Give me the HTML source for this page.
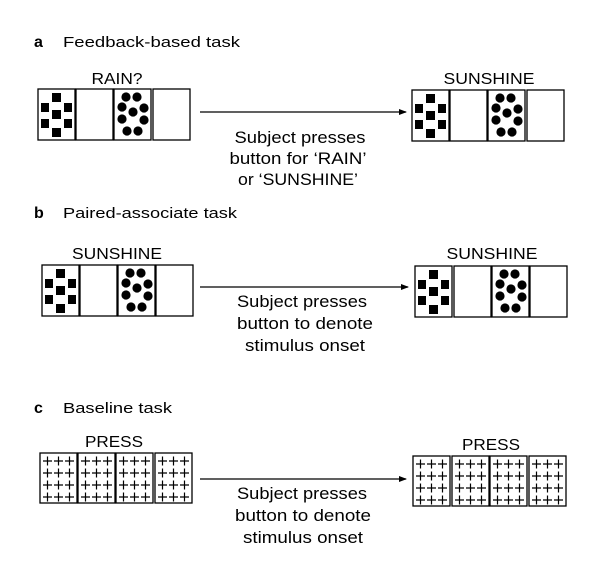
<!DOCTYPE html>
<html><head><meta charset="utf-8"><style>
html,body{margin:0;padding:0;background:#fff;}
svg{display:block;font-family:"Liberation Sans",Arial,sans-serif;}
</style></head><body>
<svg width="600" height="576" viewBox="0 0 600 576" xmlns="http://www.w3.org/2000/svg">
<defs>
<g id="sq">
<rect width="37" height="51" fill="#fff" stroke="#000" stroke-width="1.3"/>
<rect x="14" y="4" width="9" height="9"/><rect x="3" y="14" width="8" height="9"/><rect x="26" y="14" width="8" height="9"/>
<rect x="14" y="21" width="9" height="9"/><rect x="3" y="30" width="8" height="9"/><rect x="26" y="30" width="8" height="9"/>
<rect x="14" y="39" width="9" height="9"/>
</g>
<g id="ci">
<rect width="37" height="51" fill="#fff" stroke="#000" stroke-width="1.3"/>
<circle cx="12" cy="8" r="4.6"/><circle cx="23" cy="8" r="4.6"/><circle cx="8" cy="18" r="4.6"/><circle cx="30" cy="19" r="4.6"/>
<circle cx="19" cy="23" r="4.6"/><circle cx="8" cy="30" r="4.6"/><circle cx="30" cy="31" r="4.6"/><circle cx="13" cy="42" r="4.6"/><circle cx="24" cy="42" r="4.6"/>
</g>
<rect id="bl" width="37" height="51" fill="#fff" stroke="#000" stroke-width="1.3"/>
<g id="pl">
<rect width="37" height="50" fill="#fff" stroke="#000" stroke-width="1.3"/>
<g stroke="#000" stroke-width="1.2">
<path d="M3 8h9M7.5 3.5v9M14 8h9M18.5 3.5v9M25 8h9M29.5 3.5v9"/>
<path d="M3 20h9M7.5 15.5v9M14 20h9M18.5 15.5v9M25 20h9M29.5 15.5v9"/>
<path d="M3 32h9M7.5 27.5v9M14 32h9M18.5 27.5v9M25 32h9M29.5 27.5v9"/>
<path d="M3 44h9M7.5 39.5v9M14 44h9M18.5 39.5v9M25 44h9M29.5 39.5v9"/>
</g>
</g>
<marker id="ar" markerWidth="8" markerHeight="6" refX="7" refY="3" orient="auto" markerUnits="userSpaceOnUse"><path d="M0,0L8,3L0,6z"/></marker>
</defs>

<!-- a -->
<text x="34" y="47" font-size="16" font-weight="bold">a</text>
<text x="63" y="47" font-size="15" textLength="177" lengthAdjust="spacingAndGlyphs">Feedback-based task</text>
<text x="117" y="84" font-size="16" text-anchor="middle" textLength="51" lengthAdjust="spacingAndGlyphs">RAIN?</text>
<use href="#sq" x="38" y="89"/><use href="#bl" x="76" y="89"/><use href="#ci" x="114" y="89"/><use href="#bl" x="153" y="89"/>
<text x="489" y="84" font-size="16" text-anchor="middle" textLength="91" lengthAdjust="spacingAndGlyphs">SUNSHINE</text>
<use href="#sq" x="412" y="90"/><use href="#bl" x="450" y="90"/><use href="#ci" x="488" y="90"/><use href="#bl" x="527" y="90"/>
<line x1="200" y1="112" x2="406" y2="112" stroke="#000" stroke-width="1.2" marker-end="url(#ar)"/>
<g font-size="16.5" text-anchor="middle" lengthAdjust="spacingAndGlyphs">
<text x="300" y="143" textLength="131" lengthAdjust="spacingAndGlyphs">Subject presses</text>
<text x="298" y="164" textLength="137" lengthAdjust="spacingAndGlyphs">button for ‘RAIN’</text>
<text x="298" y="185" textLength="120" lengthAdjust="spacingAndGlyphs">or ‘SUNSHINE’</text>
</g>

<!-- b -->
<text x="34" y="218" font-size="16" font-weight="bold">b</text>
<text x="63" y="218" font-size="15" textLength="174" lengthAdjust="spacingAndGlyphs">Paired-associate task</text>
<text x="117" y="259" font-size="16" text-anchor="middle" textLength="90" lengthAdjust="spacingAndGlyphs">SUNSHINE</text>
<use href="#sq" x="42" y="265"/><use href="#bl" x="80" y="265"/><use href="#ci" x="118" y="265"/><use href="#bl" x="156" y="265"/>
<text x="492" y="259" font-size="16" text-anchor="middle" textLength="91" lengthAdjust="spacingAndGlyphs">SUNSHINE</text>
<use href="#sq" x="415" y="266"/><use href="#bl" x="454" y="266"/><use href="#ci" x="492" y="266"/><use href="#bl" x="530" y="266"/>
<line x1="200" y1="287" x2="408" y2="287" stroke="#000" stroke-width="1.2" marker-end="url(#ar)"/>
<g font-size="16.5" text-anchor="middle">
<text x="302" y="307" textLength="130" lengthAdjust="spacingAndGlyphs">Subject presses</text>
<text x="305" y="329" textLength="136" lengthAdjust="spacingAndGlyphs">button to denote</text>
<text x="305" y="351" textLength="120" lengthAdjust="spacingAndGlyphs">stimulus onset</text>
</g>

<!-- c -->
<text x="34" y="413" font-size="16" font-weight="bold">c</text>
<text x="63" y="413" font-size="15" textLength="109" lengthAdjust="spacingAndGlyphs">Baseline task</text>
<text x="114" y="447" font-size="16" text-anchor="middle" textLength="58" lengthAdjust="spacingAndGlyphs">PRESS</text>
<use href="#pl" x="40" y="453"/><use href="#pl" x="78" y="453"/><use href="#pl" x="116" y="453"/><use href="#pl" x="155" y="453"/>
<text x="491" y="450" font-size="16" text-anchor="middle" textLength="58" lengthAdjust="spacingAndGlyphs">PRESS</text>
<use href="#pl" x="413" y="456"/><use href="#pl" x="452" y="456"/><use href="#pl" x="490" y="456"/><use href="#pl" x="529" y="456"/>
<line x1="200" y1="479" x2="406" y2="479" stroke="#000" stroke-width="1.2" marker-end="url(#ar)"/>
<g font-size="16.5" text-anchor="middle">
<text x="302" y="499" textLength="130" lengthAdjust="spacingAndGlyphs">Subject presses</text>
<text x="303" y="521" textLength="136" lengthAdjust="spacingAndGlyphs">button to denote</text>
<text x="303" y="543" textLength="120" lengthAdjust="spacingAndGlyphs">stimulus onset</text>
</g>
</svg>
</body></html>
